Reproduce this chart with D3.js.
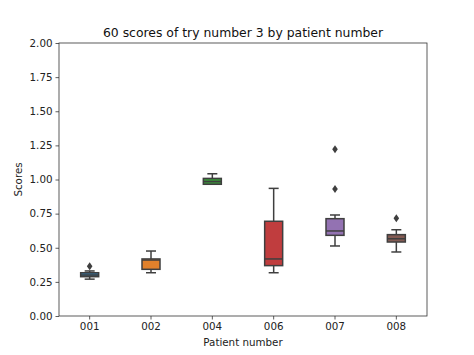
<!DOCTYPE html>
<html><head><meta charset="utf-8">
<script src="https://cdn.jsdelivr.net/npm/d3@7"></script>
<style>body{margin:0;background:#fff;} text{font-family:"DejaVu Sans",sans-serif;}</style>
</head><body><svg id="c" width="474" height="355"></svg>
<script>
const patients = ["001","002","004","006","007","008"];
const whiskLow  = [0.27, 0.317, 0.965, 0.317, 0.513, 0.469];
const q1        = [0.288, 0.342, 0.965, 0.369, 0.591, 0.542];
const median    = [0.30, 0.41, 0.985, 0.418, 0.623, 0.566];
const q3        = [0.317, 0.418, 1.008, 0.694, 0.713, 0.596];
const whiskHigh = [0.33, 0.476, 1.042, 0.935, 0.74, 0.632];
const outliers  = [[0.365], [], [], [], [0.93, 1.221], [0.716]];
const colors    = ["#3274a1","#e1812c","#3a923a","#c03d3e","#9372b2","#845b53"];
const yTicks    = [0,0.25,0.5,0.75,1,1.25,1.5,1.75,2];

const svg = d3.select("#c");
const m = {l:59, r:427, t:43, b:316};
const x = d3.scaleBand().domain(patients).range([m.l, m.r]);
const y = d3.scaleLinear().domain([0,2]).range([m.b, m.t]);
const lc = "#3f3f3f";
const bw = 18, cw = 10;

const gy = svg.append("g").attr("transform",`translate(${m.l},0)`)
  .call(d3.axisLeft(y).tickValues(yTicks).tickFormat(d3.format(".2f")).tickSize(3.5).tickPadding(3));
const gx = svg.append("g").attr("transform",`translate(0,${m.b})`)
  .call(d3.axisBottom(x).tickSize(3.5).tickPadding(3));
[gy,gx].forEach(g=>{g.select(".domain").remove(); g.selectAll("text").attr("font-size",10.3).attr("fill","#222"); g.selectAll("line").attr("stroke","#333").attr("stroke-width",0.8);});

patients.forEach((p,i)=>{
  const cx = x(p) + x.bandwidth()/2;
  const g = svg.append("g");
  g.append("line").attr("x1",cx).attr("x2",cx).attr("y1",y(whiskLow[i])).attr("y2",y(q1[i])).attr("stroke",lc).attr("stroke-width",1.5);
  g.append("line").attr("x1",cx).attr("x2",cx).attr("y1",y(q3[i])).attr("y2",y(whiskHigh[i])).attr("stroke",lc).attr("stroke-width",1.5);
  [whiskLow[i], whiskHigh[i]].forEach(v=>g.append("line").attr("x1",cx-cw/2).attr("x2",cx+cw/2).attr("y1",y(v)).attr("y2",y(v)).attr("stroke",lc).attr("stroke-width",1.5));
  g.append("rect").attr("x",cx-bw/2).attr("width",bw).attr("y",y(q3[i])).attr("height",Math.max(0.5,y(q1[i])-y(q3[i])))
    .attr("fill",colors[i]).attr("stroke",lc).attr("stroke-width",1.5);
  g.append("line").attr("x1",cx-bw/2).attr("x2",cx+bw/2).attr("y1",y(median[i])).attr("y2",y(median[i])).attr("stroke",lc).attr("stroke-width",1.5);
  outliers[i].forEach(v=>{
    const yy = y(v);
    g.append("path").attr("d",`M${cx},${yy-4}L${cx+2.8},${yy}L${cx},${yy+4}L${cx-2.8},${yy}Z`).attr("fill",lc);
  });
});

svg.append("rect").attr("x",m.l).attr("y",m.t).attr("width",m.r-m.l).attr("height",m.b-m.t)
  .attr("fill","none").attr("stroke","#333").attr("stroke-width",0.8);

svg.append("text").attr("x",(m.l+m.r)/2).attr("y",37).attr("text-anchor","middle").attr("font-size",12.4).attr("fill","#111")
  .text("60 scores of try number 3 by patient number");
svg.append("text").attr("x",(m.l+m.r)/2).attr("y",346).attr("text-anchor","middle").attr("font-size",10.3).attr("fill","#222").text("Patient number");
svg.append("text").attr("transform",`translate(22,${(m.t+m.b)/2}) rotate(-90)`).attr("text-anchor","middle").attr("font-size",10.3).attr("fill","#222").text("Scores");
</script></body></html>
